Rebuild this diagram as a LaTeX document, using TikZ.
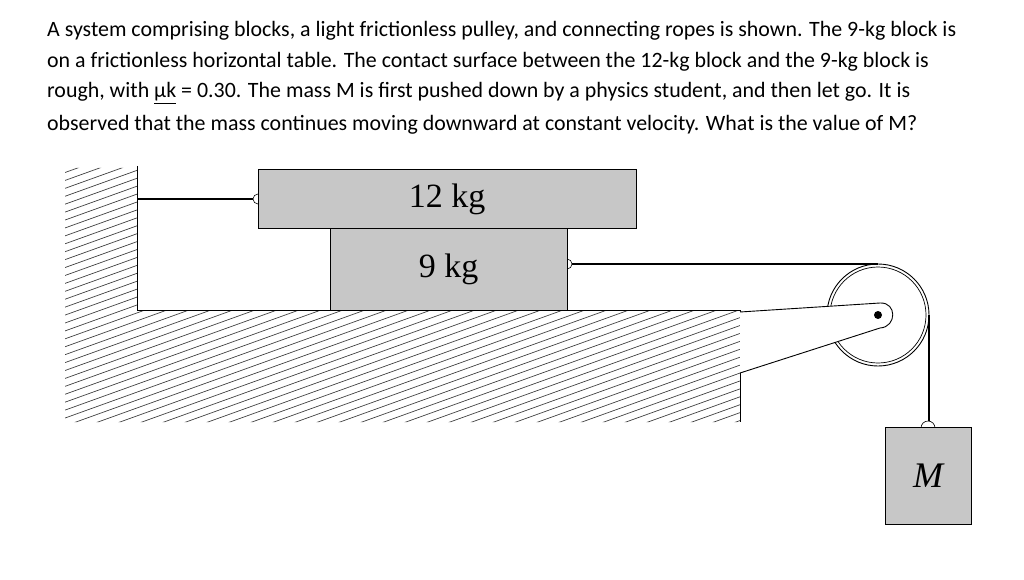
\documentclass[tikz,border=0pt]{standalone}
\usepackage{fontspec}
\setmainfont{Carlito}
\newfontfamily\tms{Liberation Serif}
\begin{document}
\begin{tikzpicture}[x=1pt,y=-1pt,
  txt/.style={anchor=west,inner sep=0pt,font=\fontsize{21.9}{24}\selectfont},
  blk/.style={draw,line width=1pt,fill=black!22,inner sep=0pt},
  rope/.style={line width=1.2pt},
  hook/.style={draw,line width=0.6pt,fill=white}]
\useasboundingbox (0,0) rectangle (1024,580);
\node[txt] (l1) at (47,31) {A system comprising blocks, a light frictionless pulley, and connecting ropes is shown. The 9-kg block is};
\node[txt] (l2) at (47,62) {on a frictionless horizontal table. The contact surface between the 12-kg block and the 9-kg block is};
\node[txt] (l3) at (47,93) {rough, with \underline{µk} = 0.30. The mass M is first pushed down by a physics student, and then let go. It is};
\node[txt] (l4) at (47,125) {observed that the mass continues moving downward at constant velocity. What is the value of M?};
% hatching
\begin{scope}
\clip (65,168) -- (137,168) -- (137,310) -- (740,310) -- (740,422) -- (65,422) -- cycle;
\foreach \i in {0,...,80}{
  \draw[line width=0.7pt,black!75] (-700+\i*22,440) -- ++(1000,-360);
}
\end{scope}
\draw[line width=0.8pt] (137,166) -- (137,310) -- (740,310) -- (740,422);
% hooks
\draw[hook] (258,199) circle (5);
\draw[hook] (567,264) circle (5);
\draw[hook] (928,428) circle (7);
% blocks
\node[blk,minimum width=378pt,minimum height=58pt] (b12) at (447,199) {\tms\fontsize{34}{36}\selectfont 12 kg};
\node[blk,minimum width=237pt,minimum height=82pt] (b9) at (448.5,269) {\tms\fontsize{34}{36}\selectfont 9 kg};
\node[blk,minimum width=86pt,minimum height=97pt] (m) at (928,475.5) {\tms\itshape\fontsize{36}{38}\selectfont M};
% pulley
\coordinate (pc) at (878,315);
\draw[line width=0.9pt] (pc) circle (51);
\draw[line width=0.7pt] (pc) circle (48);
% bracket
\filldraw[line width=0.9pt,fill=white] (740,312) -- (880,303) .. controls (897,302) and (897,327) .. (880,328) -- (740,373);
\fill (pc) circle (4);
% ropes
\coordinate (w) at (137,199);
\draw[rope] (w) -- (253,199);
\draw[rope] (572,264) -- (878,264);
\draw[rope] (929,315) -- (929,421);
\end{tikzpicture}
\end{document}
